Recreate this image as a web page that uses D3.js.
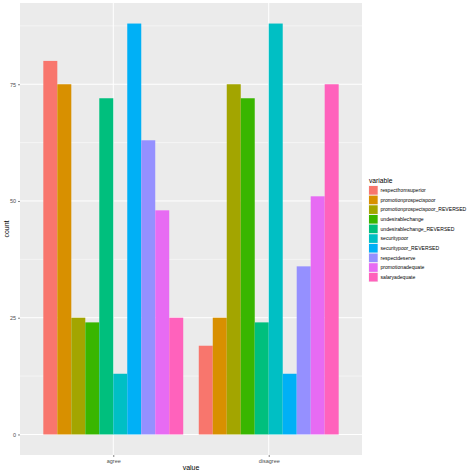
<!DOCTYPE html>
<html><head><meta charset="utf-8">
<script src="https://cdn.jsdelivr.net/npm/d3@7"></script>
<style>body{margin:0;background:#fff}svg{display:block}text{font-family:"Liberation Sans",Arial,sans-serif}</style>
</head><body>
<svg id="c" width="474" height="474"></svg>
<script>
const groups = ["agree", "disagree"];
const variables = ["respectfromsuperior","promotionprospectspoor","promotionprospectspoor_REVERSED","undesirablechange","undesirablechange_REVERSED","securitypoor","securitypoor_REVERSED","respectdeserve","promotionadequate","salaryadequate"];
const agreeValues = [80, 75, 25, 24, 72, 13, 88, 63, 48, 25];
const disagreeValues = [19, 25, 75, 72, 24, 88, 13, 36, 51, 75];
const colors = ["#F8766D","#D89000","#A3A500","#39B600","#00BF7D","#00BFC4","#00B0F6","#9590FF","#E76BF3","#FF62BC"];
const yTicks = [0, 25, 50, 75];
const yMinor = [12.5, 37.5, 62.5, 87.5];

const data = [];
groups.forEach((g, gi) => {
  const vals = gi === 0 ? agreeValues : disagreeValues;
  variables.forEach((v, vi) => data.push({group: g, variable: v, value: vals[vi]}));
});

const svg = d3.select("#c");
const L = 20, R = 362, T = 3, B = 455;
const maxV = d3.max(data, d => d.value);
const pad = maxV * 0.05;
const y = d3.scaleLinear().domain([-pad, maxV + pad]).range([B, T]);
const xc = d3.scaleLinear().domain([0.4, groups.length + 0.6]).range([L, R]);
const barW = (xc(1.9) - xc(1));
const inner = d3.scaleBand().domain(variables).range([0, barW]).padding(0);

svg.append("rect").attr("x", L).attr("y", T).attr("width", R - L).attr("height", B - T).attr("fill", "#EBEBEB");
const grid = svg.append("g");
yMinor.forEach(t => grid.append("line").attr("x1", L).attr("x2", R).attr("y1", y(t)).attr("y2", y(t)).attr("stroke", "#fff").attr("stroke-width", 0.5));
yTicks.forEach(t => grid.append("line").attr("x1", L).attr("x2", R).attr("y1", y(t)).attr("y2", y(t)).attr("stroke", "#fff").attr("stroke-width", 1));
groups.forEach((g, i) => grid.append("line").attr("x1", xc(i + 1)).attr("x2", xc(i + 1)).attr("y1", T).attr("y2", B).attr("stroke", "#fff").attr("stroke-width", 1));

const color = d3.scaleOrdinal().domain(variables).range(colors);
svg.append("g").selectAll("rect").data(data).join("rect")
  .attr("x", d => xc(groups.indexOf(d.group) + 1) - barW / 2 + inner(d.variable))
  .attr("width", inner.bandwidth())
  .attr("y", d => y(d.value))
  .attr("height", d => y(0) - y(d.value))
  .attr("fill", d => color(d.variable));

const yAxis = d3.axisLeft(y).tickValues(yTicks).tickSize(2).tickPadding(2);
const ya = svg.append("g").attr("transform", `translate(${L},0)`).call(yAxis);
ya.select(".domain").remove();
ya.selectAll("line").attr("stroke", "#333").attr("stroke-width", 0.6);
ya.selectAll("text").attr("fill", "#4D4D4D").style("font-size", "5.5px");

const xb = d3.scalePoint().domain(groups).range([xc(1), xc(groups.length)]);
const xAxis = d3.axisBottom(xb).tickSize(2).tickPadding(2);
const xa = svg.append("g").attr("transform", `translate(0,${B})`).call(xAxis);
xa.select(".domain").remove();
xa.selectAll("line").attr("stroke", "#333").attr("stroke-width", 0.6);
xa.selectAll("text").attr("fill", "#4D4D4D").style("font-size", "5.5px");

svg.append("text").attr("x", (L + R) / 2).attr("y", 470).attr("text-anchor", "middle").style("font-size", "7px").attr("fill", "#000").text("value");
svg.append("text").attr("transform", `translate(9,${(T + B) / 2}) rotate(-90)`).attr("text-anchor", "middle").style("font-size", "7px").attr("fill", "#000").text("count");

const lg = svg.append("g");
lg.append("text").attr("x", 369).attr("y", 183).style("font-size", "6.7px").attr("fill", "#000").text("variable");
const ky = d3.scaleBand().domain(variables).range([185.5, 185.5 + 9.65 * variables.length]);
variables.forEach(v => {
  lg.append("rect").attr("x", 368.5).attr("y", ky(v)).attr("width", 9.65).attr("height", 9.65).attr("fill", "#F2F2F2");
  lg.append("rect").attr("x", 369).attr("y", ky(v) + 0.5).attr("width", 8.65).attr("height", 8.65).attr("fill", color(v));
  lg.append("text").attr("x", 380.5).attr("y", ky(v) + 6.6).style("font-size", "5.1px").attr("fill", "#000").text(v);
});
</script>
</body></html>
